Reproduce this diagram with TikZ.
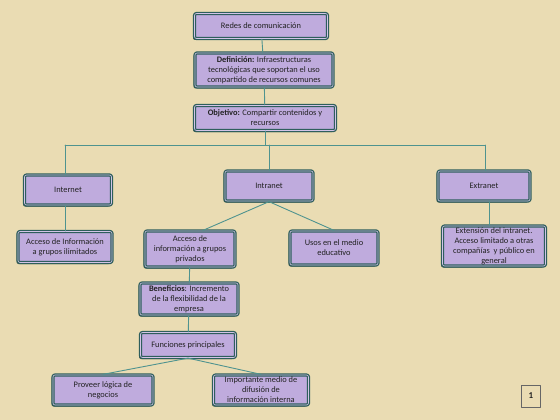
\documentclass[tikz,border=0pt]{standalone}
\usepackage{fontspec}
\setmainfont{Carlito}
\usepackage{tikz}
\usetikzlibrary{shadows}
\definecolor{papel}{HTML}{EADCB3}
\definecolor{lila}{HTML}{BFABDD}
\definecolor{borde}{HTML}{2E5E5C}
\definecolor{linea}{HTML}{4F938F}
\definecolor{texto}{HTML}{222222}

\begin{document}
\begin{tikzpicture}[line cap=round,line join=round,x=1pt,y=-1pt,
  caja/.style={draw=borde,line width=1.3pt,fill=lila,rounded corners=2pt,
    double=lila!70!white,double distance=0.6pt,
    drop shadow={shadow xshift=-1.5pt,shadow yshift=-1.5pt,fill=borde!60!black,opacity=.8},
    text=texto,font=\fontsize{8.4}{10}\selectfont,align=center,inner sep=0pt},
  rama/.style={draw=linea,line width=0.9pt}]
\fill[papel] (0,0) rectangle (560,420);
\useasboundingbox (0,0) rectangle (560,420);
\node[caja,minimum width=133pt,minimum height=25pt] (redes) at (261,26) {Redes de comunicación};
\node[caja,minimum width=138pt,minimum height=34pt] (defin) at (264,70) {\textbf{Definición:} Infraestructuras\\tecnológicas que soportan el uso\\compartido de recursos comunes};
\node[caja,minimum width=141pt,minimum height=25pt] (objet) at (265,118) {\textbf{Objetivo:} Compartir contenidos y\\recursos};
\node[caja,minimum width=87pt,minimum height=30pt] (internet) at (68,190) {Internet};
\node[caja,minimum width=88pt,minimum height=30pt] (intranet) at (269,186) {Intranet};
\node[caja,minimum width=92pt,minimum height=30pt] (extranet) at (484,186) {Extranet};
\node[caja,minimum width=94pt,minimum height=31pt] (accilim) at (65,247) {Acceso de Información\\a grupos ilimitados};
\node[caja,minimum width=90pt,minimum height=36pt] (accpriv) at (190,249) {Acceso de\\información a grupos\\privados};
\node[caja,minimum width=88pt,minimum height=34pt] (usos) at (334,248) {Usos en el medio\\educativo};
\node[caja,minimum width=103pt,minimum height=40pt] (extens) at (494,246) {Extensión del intranet.\\Acceso limitado a otras\\compañías \ y público en\\general};
\node[caja,minimum width=98pt,minimum height=32pt] (benef) at (189,299) {\textbf{Beneficios}: Incremento\\de la flexibilidad de la\\empresa};
\node[caja,minimum width=95pt,minimum height=25pt] (funcs) at (188,345) {Funciones principales};
\node[caja,minimum width=100pt,minimum height=30pt] (proveer) at (103,390) {Proveer lógica de\\negocios};
\node[caja,minimum width=95pt,minimum height=30pt] (difus) at (261,390) {Importante medio de\\difusión de\\información interna};
\node[draw=gray!80!black,line width=1pt,minimum width=19pt,minimum height=22pt,text=texto,font=\bfseries\small] (pag) at (531,396) {1};
\coordinate (busL) at (65,145);
\coordinate (busR) at (485,145);
\draw[rama] (redes) -- (defin);
\draw[rama] (defin) -- (objet);
\draw[rama] (objet) -- (objet |- busL);
\draw[rama] (busL) -- (busR);
\draw[rama] (busL) -- (internet.north -| busL);
\draw[rama] (intranet |- busL) -- (intranet);
\draw[rama] (busR) -- (extranet.north -| busR);
\draw[rama] (internet.south -| busL) -- (accilim.north -| busL);
\draw[rama] (intranet.south) -- ([xshift=13pt]accpriv.north);
\draw[rama] (intranet.south) -- (usos.north);
\draw[rama] (extranet.south -| 489,0) -- (extens.north -| 489,0);
\draw[rama] (accpriv) -- (benef);
\draw[rama] (benef) -- (funcs);
\draw[rama] (funcs.south) -- (proveer.north);
\draw[rama] (funcs.south) -- (difus.north);
\end{tikzpicture}
\end{document}
